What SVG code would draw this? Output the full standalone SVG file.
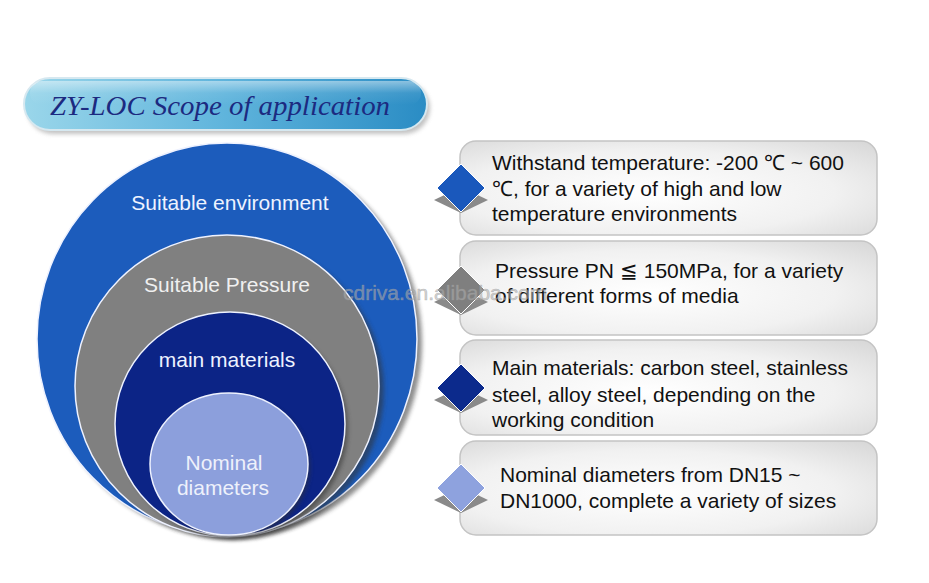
<svg xmlns="http://www.w3.org/2000/svg" width="929" height="583" viewBox="0 0 929 583">
<defs>
<linearGradient id="pill" x1="0" y1="0" x2="1" y2="0">
<stop offset="0" stop-color="#9ad6ea"/>
<stop offset="0.5" stop-color="#5fb4dc"/>
<stop offset="1" stop-color="#2a8cc4"/>
</linearGradient>
<linearGradient id="gloss" x1="0" y1="0" x2="0" y2="1">
<stop offset="0" stop-color="#ffffff" stop-opacity="0.45"/>
<stop offset="0.5" stop-color="#ffffff" stop-opacity="0.08"/>
<stop offset="1" stop-color="#ffffff" stop-opacity="0"/>
</linearGradient>
<radialGradient id="box" cx="0.45" cy="0.55" r="0.75">
<stop offset="0" stop-color="#ffffff"/>
<stop offset="0.6" stop-color="#f1f1f1"/>
<stop offset="1" stop-color="#d8d8d8"/>
</radialGradient>
<filter id="blur" x="-20%" y="-20%" width="140%" height="140%">
<feGaussianBlur stdDeviation="2"/>
</filter>
<style>
.ctext{font-family:"Liberation Sans",Arial,sans-serif;font-size:21px;text-anchor:middle}
.btext{font-family:"Liberation Sans",Arial,sans-serif;font-size:21px;fill:#111}
.box{fill:url(#box);stroke:#c4c4c4;stroke-width:1.5}
.ring{stroke:#eef2ff;stroke-width:1.5}
.shadow{fill:#333;opacity:0.55;filter:url(#blur)}
.dshadow{fill:#8a8a8a}
.dia{stroke:#ffffff;stroke-width:1}
</style>
</defs>
<rect width="929" height="583" fill="#ffffff"/>

<g id="title">
<rect x="27" y="82" width="403" height="52" rx="26" fill="#9a9a9a" opacity="0.6" filter="url(#blur)"/>
<rect x="24" y="78" width="403" height="52" rx="26" fill="url(#pill)" stroke="#d6e8f0" stroke-width="2"/>
<rect x="30" y="81" width="391" height="24" rx="12" fill="url(#gloss)"/>
<text x="50" y="115" font-family="'Liberation Serif',serif" font-style="italic" font-size="28" fill="#1c2a80" textLength="340" lengthAdjust="spacingAndGlyphs">ZY-LOC  Scope of application</text>
</g>

<g id="circle-environment">
<ellipse class="shadow" cx="232" cy="343" rx="190" ry="195"/>
<ellipse class="ring" cx="227" cy="339" rx="190" ry="196" fill="#1c5cbc"/>
<text class="ctext" x="230" y="210" fill="#eef3ff">Suitable environment</text>
</g>
<g id="circle-pressure">
<ellipse class="shadow" cx="232" cy="390" rx="152" ry="150"/>
<ellipse class="ring" cx="227" cy="386" rx="152" ry="151" fill="#808080"/>
<text class="ctext" x="227" y="292" fill="#f0f0f0">Suitable Pressure</text>
</g>
<g id="circle-materials">
<ellipse class="shadow" cx="234" cy="428" rx="114" ry="111"/>
<ellipse class="ring" cx="230" cy="424" rx="115" ry="112" fill="#0c2486"/>
<text class="ctext" x="227" y="367" fill="#eef2ff">main materials</text>
</g>
<g id="circle-diameters">
<ellipse class="shadow" cx="232" cy="467" rx="78" ry="71"/>
<ellipse class="ring" cx="229" cy="464" rx="79" ry="71" fill="#8c9fdc"/>
<text class="ctext" x="224" y="470" fill="#eef1fb">Nominal</text>
<text class="ctext" x="223" y="495" fill="#eef1fb">diameters</text>
</g>

<g id="item-temperature">
<rect class="box" x="460" y="141" width="417" height="94" rx="16"/>
<polygon class="dshadow" points="434,200 461,187 488,200 461,213"/>
<polygon class="dia" points="461,164 485,188 461,212 437,188" fill="#1a58bc"/>
<text class="btext" x="492" y="170">Withstand temperature: -200 ℃ ~ 600</text>
<text class="btext" x="492" y="196">℃, for a variety of high and low</text>
<text class="btext" x="492" y="221">temperature environments</text>
</g>
<g id="item-pressure">
<rect class="box" x="460" y="241" width="417" height="94" rx="16"/>
<polygon class="dshadow" points="434,302 461,289 488,302 461,315"/>
<polygon class="dia" points="461,266 485,290 461,314 437,290" fill="#7f7f7f"/>
<text class="btext" x="495" y="278">Pressure PN ≦ 150MPa, for a variety</text>
<text class="btext" x="495" y="303">of different forms of media</text>
</g>
<g id="item-materials">
<rect class="box" x="460" y="340" width="417" height="95" rx="16"/>
<polygon class="dshadow" points="434,400 461,387 488,400 461,413"/>
<polygon class="dia" points="461,364 485,388 461,412 437,388" fill="#0c2a8c"/>
<text class="btext" x="492" y="375">Main materials: carbon steel, stainless</text>
<text class="btext" x="492" y="402">steel, alloy steel, depending on the</text>
<text class="btext" x="492" y="427">working condition</text>
</g>
<g id="item-diameters">
<rect class="box" x="460" y="441" width="417" height="94" rx="16"/>
<polygon class="dshadow" points="434,500 461,487 488,500 461,513"/>
<polygon class="dia" points="461,464 485,488 461,512 437,488" fill="#8ea2de"/>
<text class="btext" x="500" y="482">Nominal diameters from DN15 ~</text>
<text class="btext" x="500" y="508">DN1000, complete a variety of sizes</text>
</g>

<g id="connectors"></g>

<text x="343" y="300" font-family="'Liberation Sans',Arial,sans-serif" font-size="21" fill="#b0b0b0" fill-opacity="0.55" stroke="#9a9a9a" stroke-opacity="0.6" stroke-width="0.6">cdriva.en.alibaba.com</text>
</svg>
